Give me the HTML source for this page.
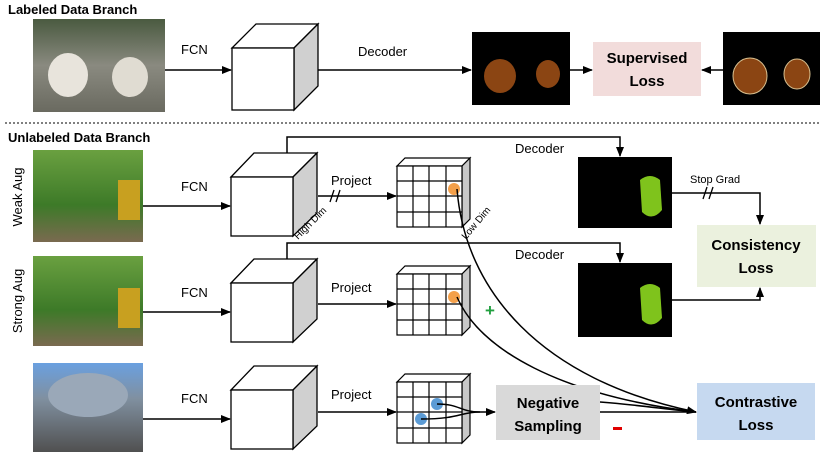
<!DOCTYPE html>
<html><head><meta charset="utf-8"><style>
html,body{margin:0;padding:0;background:#fff;}
svg{display:block;font-family:"Liberation Sans",sans-serif;}
</style></head><body>
<svg width="825" height="457" viewBox="0 0 825 457" xmlns="http://www.w3.org/2000/svg">
<defs>
<marker id="a" markerWidth="10" markerHeight="8" refX="9" refY="4" orient="auto" markerUnits="userSpaceOnUse"><path d="M0,0 L10,4 L0,8 z" fill="#000"/></marker>
<linearGradient id="sheep" x1="0" y1="0" x2="0" y2="1"><stop offset="0" stop-color="#4a5a40"/><stop offset="0.5" stop-color="#8a8a80"/><stop offset="1" stop-color="#6a6a60"/></linearGradient>
<linearGradient id="tree" x1="0" y1="0" x2="0" y2="1"><stop offset="0" stop-color="#6aa040"/><stop offset="0.6" stop-color="#3d7a28"/><stop offset="1" stop-color="#7a6a50"/></linearGradient>
<linearGradient id="bean" x1="0" y1="0" x2="0" y2="1"><stop offset="0" stop-color="#6aa0e0"/><stop offset="0.4" stop-color="#8090a0"/><stop offset="1" stop-color="#505050"/></linearGradient>
</defs>
<text x="8" y="14" font-size="13" font-weight="bold">Labeled Data Branch</text>
<text x="8" y="142" font-size="13" font-weight="bold">Unlabeled Data Branch</text>
<line x1="5" y1="123" x2="820" y2="123" stroke="#000" stroke-dasharray="2,2"/>

<!-- photos -->
<rect x="33" y="19" width="132" height="93" fill="url(#sheep)"/>
<ellipse cx="68" cy="75" rx="20" ry="22" fill="#e8e4dc"/><ellipse cx="130" cy="77" rx="18" ry="20" fill="#e0dcd2"/>
<rect x="33" y="150" width="110" height="92" fill="url(#tree)"/><rect x="118" y="180" width="22" height="40" fill="#c8a020"/>
<rect x="33" y="256" width="110" height="90" fill="url(#tree)"/><rect x="118" y="288" width="22" height="40" fill="#c8a020"/>
<rect x="33" y="363" width="110" height="89" fill="url(#bean)"/><ellipse cx="88" cy="395" rx="40" ry="22" fill="#9aa8b8"/>
<text transform="translate(22,197) rotate(-90)" font-size="13" text-anchor="middle">Weak Aug</text>
<text transform="translate(22,301) rotate(-90)" font-size="13" text-anchor="middle">Strong Aug</text>

<!-- cubes -->
<g stroke="#000" stroke-width="1.3">
<polygon points="232,48 256,24 318,24 294,48" fill="#fff"/><polygon points="294,48 318,24 318,86 294,110" fill="#d0d0d0"/><rect x="232" y="48" width="62" height="62" fill="#fff"/>
<polygon points="231,177 254,153 317,153 293,177" fill="#fff"/><polygon points="293,177 317,153 317,213 293,236" fill="#d0d0d0"/><rect x="231" y="177" width="62" height="59" fill="#fff"/>
<polygon points="231,283 254,259 317,259 293,283" fill="#fff"/><polygon points="293,283 317,259 317,319 293,342" fill="#d0d0d0"/><rect x="231" y="283" width="62" height="59" fill="#fff"/>
<polygon points="231,390 254,366 317,366 293,390" fill="#fff"/><polygon points="293,390 317,366 317,426 293,449" fill="#d0d0d0"/><rect x="231" y="390" width="62" height="59" fill="#fff"/>
</g>
<text x="298" y="240" font-size="10" transform="rotate(-45 298 240)">High Dim</text>

<!-- grids -->
<g stroke="#000" stroke-width="1.2" fill="none">
<g id="g1">
<polygon points="397,166 405,158 470,158 462,166" fill="#fff"/><polygon points="462,166 470,158 470,219 462,227" fill="#c8c8c8"/>
<rect x="397" y="166" width="65" height="61" fill="#fff"/>
<path d="M413,166V227M429,166V227M446,166V227M397,181H462M397,196H462M397,212H462"/>
</g>
<use href="#g1" y="108"/>
<use href="#g1" y="216"/>
</g>
<text x="466" y="240" font-size="10" transform="rotate(-50 466 240)">Low Dim</text>
<circle cx="454" cy="189" r="6" fill="#f4a04a"/>
<circle cx="454" cy="297" r="6" fill="#f4a04a"/>
<circle cx="437" cy="404" r="6" fill="#5b9bd5"/>
<circle cx="421" cy="419" r="6" fill="#5b9bd5"/>

<!-- arrows -->
<g stroke="#000" stroke-width="1.5" fill="none">
<line x1="165" y1="70" x2="231" y2="70" marker-end="url(#a)"/>
<line x1="318" y1="70" x2="471" y2="70" marker-end="url(#a)"/>
<line x1="570" y1="70" x2="592" y2="70" marker-end="url(#a)"/>
<line x1="723" y1="70" x2="702" y2="70" marker-end="url(#a)"/>
<line x1="143" y1="206" x2="230" y2="206" marker-end="url(#a)"/>
<line x1="143" y1="312" x2="230" y2="312" marker-end="url(#a)"/>
<line x1="143" y1="419" x2="230" y2="419" marker-end="url(#a)"/>
<line x1="318" y1="196" x2="396" y2="196" marker-end="url(#a)"/>
<line x1="318" y1="304" x2="396" y2="304" marker-end="url(#a)"/>
<line x1="318" y1="412" x2="396" y2="412" marker-end="url(#a)"/>
<path d="M287,153V137H620V156" marker-end="url(#a)"/>
<path d="M287,259V243H620V262" marker-end="url(#a)"/>
<path d="M672,193H760V224" marker-end="url(#a)"/>
<path d="M672,300H760V288" marker-end="url(#a)"/>
<path d="M437,404 C460,404 460,412 480,412 M421,419 C460,419 460,412 480,412"/>
<line x1="470" y1="412" x2="495" y2="412" marker-end="url(#a)"/>
<path d="M457,189 C465,290 540,380 696,412" marker-end="url(#a)"/>
<path d="M457,297 C480,350 560,395 696,412"/>
<path d="M600,402 C640,405 670,410 696,412"/>
<line x1="600" y1="412" x2="696" y2="412"/>
</g>
<g stroke="#000" stroke-width="1.3"><line x1="330" y1="202" x2="334" y2="190"/><line x1="336" y1="202" x2="340" y2="190"/>
<line x1="703" y1="199" x2="707" y2="187"/><line x1="709" y1="199" x2="713" y2="187"/></g>

<g font-size="13">
<text x="181" y="54">FCN</text>
<text x="181" y="191">FCN</text>
<text x="181" y="297">FCN</text>
<text x="181" y="403">FCN</text>
<text x="358" y="56">Decoder</text>
<text x="515" y="153">Decoder</text>
<text x="515" y="259">Decoder</text>
<text x="331" y="185">Project</text>
<text x="331" y="292">Project</text>
<text x="331" y="399">Project</text>
<text x="690" y="183" font-size="11">Stop Grad</text>
</g>

<!-- black images -->
<rect x="472" y="32" width="98" height="73" fill="#000"/>
<ellipse cx="500" cy="76" rx="16" ry="17" fill="#8b4513"/><ellipse cx="548" cy="74" rx="12" ry="14" fill="#8b4513"/>
<rect x="723" y="32" width="97" height="73" fill="#000"/>
<ellipse cx="750" cy="76" rx="17" ry="18" fill="#8b4513" stroke="#d8c090"/><ellipse cx="797" cy="74" rx="13" ry="15" fill="#8b4513" stroke="#d8c090"/>
<rect x="578" y="157" width="94" height="71" fill="#000"/><path d="M640,180 Q650,172 660,180 L662,210 Q652,222 642,212 Z" fill="#7fc31c"/>
<rect x="578" y="263" width="94" height="74" fill="#000"/><path d="M640,288 Q650,280 660,288 L662,318 Q652,330 642,320 Z" fill="#7fc31c"/>

<!-- boxes -->
<rect x="593" y="42" width="108" height="54" fill="#f2dcdb"/>
<text x="647" y="63" font-size="15" font-weight="bold" text-anchor="middle">Supervised</text>
<text x="647" y="86" font-size="15" font-weight="bold" text-anchor="middle">Loss</text>
<rect x="697" y="225" width="119" height="62" fill="#ebf1de"/>
<text x="756" y="250" font-size="15" font-weight="bold" text-anchor="middle">Consistency</text>
<text x="756" y="273" font-size="15" font-weight="bold" text-anchor="middle">Loss</text>
<rect x="496" y="385" width="104" height="55" fill="#d9d9d9"/>
<text x="548" y="408" font-size="15" font-weight="bold" text-anchor="middle">Negative</text>
<text x="548" y="431" font-size="15" font-weight="bold" text-anchor="middle">Sampling</text>
<rect x="697" y="383" width="118" height="57" fill="#c6d9f0"/>
<text x="756" y="407" font-size="15" font-weight="bold" text-anchor="middle">Contrastive</text>
<text x="756" y="430" font-size="15" font-weight="bold" text-anchor="middle">Loss</text>
<text x="490" y="316" font-size="17" font-weight="bold" fill="#22a040" text-anchor="middle">+</text>
<rect x="613" y="427" width="9" height="3" fill="#e00000"/>
</svg>
</body></html>
